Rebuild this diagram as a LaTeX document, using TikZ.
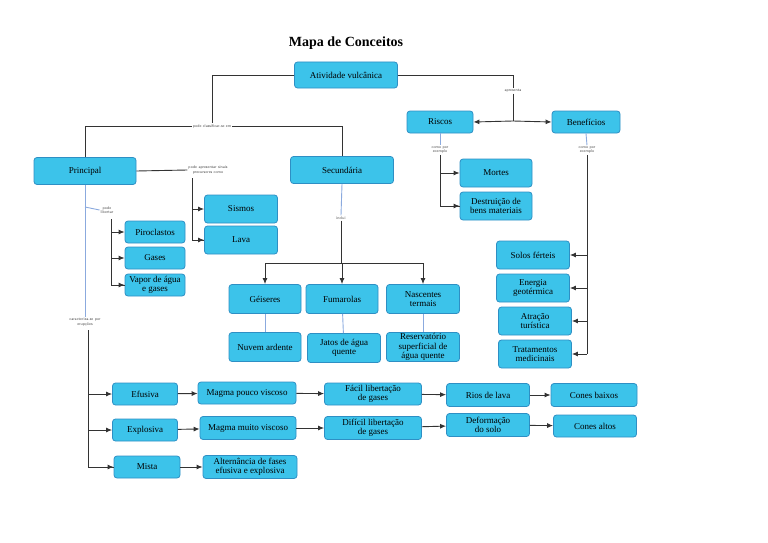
\documentclass[tikz,border=0pt]{standalone}
\usepackage{fontspec}
\setmainfont{Liberation Serif}
\usetikzlibrary{arrows.meta}
\definecolor{bf}{HTML}{3CC3EA}
\definecolor{bd}{HTML}{2E8FC4}
\definecolor{lb}{HTML}{5A86D0}
\begin{document}
\begin{tikzpicture}[x=1pt,y=-1pt,
 bx/.style={draw=bd,fill=bf,rounded corners=3pt,line width=0.8pt,align=center,font=\fontsize{9}{9.5}\selectfont,inner sep=0pt},
 lab/.style={font=\fontsize{4}{4.5}\selectfont\sffamily,text=black!70,align=center,inner sep=1pt,fill=white},
 ln/.style={draw=black!80,line width=0.9pt},
 ar/.style={ln,-{Latex[length=6pt,width=5pt]}},
 bl/.style={draw=lb!70,line width=0.9pt}]
\useasboundingbox (0,0) rectangle (768,543);
\node[font=\bfseries\fontsize{14}{14}\selectfont] (title) at (346,43) {Mapa de Conceitos};
\newcommand{\bxn}[6]{\node[bx,minimum width=#4pt,minimum height=#5pt] (#1) at (#2,#3) {#6};}
\bxn{av}{346}{75}{103}{26}{Atividade vulcânica}
\bxn{ris}{440}{122}{66}{22}{Riscos}
\bxn{ben}{586}{122}{68}{22}{Benefícios}
\bxn{pri}{85}{171}{102}{27}{Principal}
\bxn{sec}{342}{170}{103}{27}{Secundária}
\bxn{sis}{241}{209}{73}{28}{Sismos}
\bxn{lav}{241}{240}{73}{28}{Lava}
\bxn{pir}{155}{232}{60}{22}{Piroclastos}
\bxn{gas}{155}{258}{60}{22}{Gases}
\bxn{vap}{155}{285}{60}{22}{Vapor de água\\e gases}
\bxn{mor}{496}{173}{72}{28}{Mortes}
\bxn{des}{496}{206}{72}{28}{Destruição de\\bens materiais}
\bxn{sol}{533}{255}{73}{28}{Solos férteis}
\bxn{ene}{533}{288}{73}{28}{Energia\\geotérmica}
\bxn{atr}{535}{321}{73}{28}{Atração\\turística}
\bxn{tra}{535}{354}{73}{28}{Tratamentos\\medicinais}
\bxn{gei}{265}{299}{72}{29}{Géiseres}
\bxn{fum}{342}{299}{72}{29}{Fumarolas}
\bxn{nas}{423}{299}{73}{29}{Nascentes\\termais}
\bxn{nuv}{265}{347}{72}{29}{Nuvem ardente}
\bxn{jat}{344}{348}{73}{29}{Jatos de água\\quente}
\bxn{res}{423}{347}{73}{29}{Reservatório\\superficial de\\água quente}
\bxn{efu}{145}{394}{65}{22}{Efusiva}
\bxn{exp}{145}{430}{65}{22}{Explosiva}
\bxn{mis}{147}{467}{66}{22}{Mista}
\bxn{mpv}{247}{393}{98}{22}{Magma pouco viscoso}
\bxn{mmv}{248}{428}{96}{23}{Magma muito viscoso}
\bxn{alt}{250}{467}{94}{23}{Alternância de fases\\efusiva e explosiva}
\bxn{fac}{373}{394}{97}{22}{Fácil libertação\\de gases}
\bxn{dif}{373}{428}{97}{23}{Difícil libertação\\de gases}
\bxn{rio}{488}{395}{83}{23}{Rios de lava}
\bxn{def}{488}{425}{83}{23}{Deformação\\do solo}
\bxn{cb}{594}{395}{86}{23}{Cones baixos}
\bxn{ca}{595}{426}{83}{22}{Cones altos}
% labels
\node[lab] (l1) at (212,126) {pode classificar-se em};
\node[lab] (l2) at (513,91) {apresenta};
\node[lab] (l3) at (208,170) {pode apresentar sinais\\precursores como};
\node[lab] (l4) at (107,210) {pode\\libertar};
\node[lab] (l5) at (85,322) {caracteriza-se por\\erupções};
\node[lab] (l6) at (341,218) {inclui};
\node[lab] (l7) at (440,150) {como por\\exemplo};
\node[lab] (l8) at (587,150) {como por\\exemplo};
% classification
\draw[ln] (av.west) -| (l1.north);
\draw[ln] (l1.west) -| (pri.north);
\draw[ln] (l1.east) -| (sec.north);
% apresenta
\coordinate (j1) at (513,121);
\draw[ln] (av.east) -| (l2.north);
\draw[ln] (l2.south) -- (j1);
\draw[ar] (j1) -- (ris.east);
\draw[ar] (j1) -- (ben.west);
% precursores
\draw[ln] (pri.east) -- (l3.west);
\coordinate (p1) at (192,178);
\draw[ln] (p1) |- (lav.west);
\draw[ar] (192,209) -- (sis.west);
\draw[ar] (192,240) -- (lav.west);
% libertar
\draw[bl] (pri.south) -- (l5.north);
\draw[bl] (85,207) -- (l4.west);
\coordinate (q1) at (111,219);
\draw[ln] (q1) |- (vap.west);
\draw[ar] (111,232) -- (pir.west);
\draw[ar] (111,258) -- (gas.west);
\draw[ar] (111,285) -- (vap.west);
% eruptions
\coordinate (e1) at (88,330);
\draw[ln] (e1) |- (mis.west);
\draw[ar] (88,394) -- (efu.west);
\draw[ar] (88,430) -- (exp.west);
\draw[ar] (88,467) -- (mis.west);
\draw[ar] (efu) -- (mpv);
\draw[ar] (exp) -- (mmv);
\draw[ar] (mis) -- (alt);
\draw[ar] (mpv) -- (fac);
\draw[ar] (mmv) -- (dif);
\draw[ar] (fac) -- (rio);
\draw[ar] (dif) -- (def);
\draw[ar] (rio) -- (cb);
\draw[ar] (def) -- (ca);
% secundaria
\draw[bl] (sec.south) -- (l6.north);
\coordinate (s1) at (341,263);
\draw[ln] (l6.south) -- (s1);
\draw[ln] (265,263) -- (423,263);
\draw[ar] (265,263) -- (gei.north);
\draw[ar] (342,263) -- (fum.north);
\draw[ar] (423,263) -- (nas.north);
\draw[bl] (gei) -- (nuv);
\draw[bl] (fum) -- (jat);
\draw[bl] (nas) -- (res);
% riscos
\draw[bl] (ris.south) -- (l7.north);
\draw[ln] (l7.south) |- (des.west);
\draw[ar] (440,173) -- (mor.west);
\draw[ar] (440,206) -- (des.west);
% beneficios
\draw[bl] (ben.south) -- (l8.north);
\draw[ln] (l8.south) |- (587,354);
\draw[ar] (587,255) -- (sol.east);
\draw[ar] (587,288) -- (ene.east);
\draw[ar] (587,321) -- (atr.east);
\draw[ar] (587,354) -- (tra.east);
\end{tikzpicture}
\end{document}
